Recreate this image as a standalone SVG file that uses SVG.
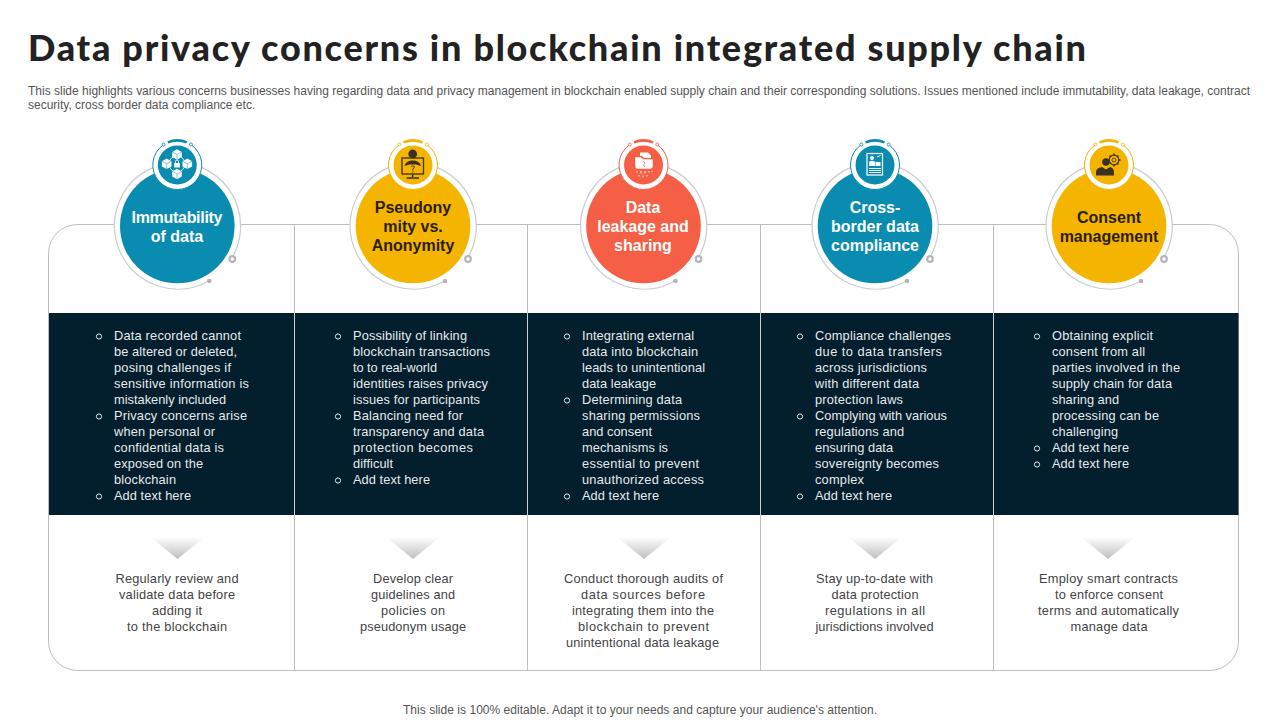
<svg xmlns="http://www.w3.org/2000/svg" width="1280" height="720" viewBox="0 0 1280 720">
<defs>
<linearGradient id="chev" x1="0" y1="0" x2="0" y2="1"><stop offset="0" stop-color="#ffffff"/><stop offset="1" stop-color="#bfbfbf"/></linearGradient>
<path id="ch" d="M-27 537H27L0 559Z" fill="url(#chev)"/>
<g id="badge">
<circle cx="0" cy="226" r="63.300" fill="#fff"/>
<path class="ring" d="M54.600 258A63.300 63.300 0 0 0 24.500 167.600"/>
<path class="ring" d="M31.400 281A63.300 63.300 0 1 1 -24.500 167.600"/>
<circle class="dr" cx="55" cy="259" r="2.800"/>
<circle class="dot" cx="32" cy="281" r="2.300"/>
<circle cx="0" cy="226" r="57.300" fill="currentColor"/>
<circle cx="0" cy="165" r="24.500" fill="#fff"/>
<path d="M13.700 144.700A24.500 24.500 0 1 1 -13.700 144.700" fill="none" stroke="currentColor" stroke-width="1"/>
<path d="M-9.500 142.400A24.500 24.500 0 0 1 9.500 142.400" fill="none" stroke="currentColor" stroke-width="2.600"/>
<circle cx="-13.700" cy="144.500" r="1.500" fill="#fff" stroke="currentColor" stroke-width="0.800"/>
<circle cx="13.700" cy="144.500" r="1.500" fill="#fff" stroke="currentColor" stroke-width="0.800"/>
<circle cx="0" cy="165" r="19.500" fill="currentColor"/>
</g>
<g id="cube"><path d="M0 -5.200L4.800 -2.600V2.600L0 5.200L-4.800 2.600V-2.600Z" fill="#fff"/><path d="M-4.800 -2.600L0 0L4.800 -2.600M0 0V5.200" fill="none" stroke="#0a8cb0" stroke-width="0.500"/></g>
</defs>
<style>
text{font-family:"Liberation Sans",Arial,sans-serif}
.title{font-family:Lato,"Liberation Sans",sans-serif;font-weight:900;font-size:36px;fill:#222}
.sub{font-size:12px;fill:#555}
.b{font-size:12.800px;fill:#e6eaec}
.c{font-size:12.800px;fill:#444;text-anchor:middle}
.h{font-size:16px;font-weight:700;text-anchor:middle}
.w{fill:#fff}.d{fill:#2b1e08}
.ln{fill:none;stroke:#bdbdbd;stroke-width:1}
.bu{fill:none;stroke:#e6eaec;stroke-width:1}
.ring{fill:none;stroke:#c9ccd0;stroke-width:1.200}
.dot{fill:#b4b6ba}
.dr{fill:#fff;stroke:#b4b6ba;stroke-width:2.200}
.teal{color:#0a8cb0}.gold{color:#f4b400}.red{color:#f45f45}
</style>
<rect width="1280" height="720" fill="#fff"/>
<text class="title" x="28" y="61" textLength="1058">Data privacy concerns in blockchain integrated supply chain</text>
<text class="sub" x="28" y="94.500" textLength="1222">This slide highlights various concerns businesses having regarding data and privacy management in blockchain enabled supply chain and their corresponding solutions. Issues mentioned include immutability, data leakage, contract</text>
<text class="sub" x="28" y="109">security, cross border data compliance etc.</text>
<g id="connectors">
<rect class="ln" x="48.500" y="224.500" width="1190" height="446" rx="29"/>
<path class="ln" d="M294.500 224V670M527.500 224V670M760.500 224V670M993.500 224V670"/>
</g>
<rect x="49" y="313" width="1189.500" height="202" fill="#031f2d"/>
<path d="M294.500 313V515M527.500 313V515M760.500 313V515M993.500 313V515" stroke="#c8d0d4" stroke-width="1" fill="none"/>

<g id="node-immutability">
<use href="#badge" x="177.300" class="teal"/>
<g fill="none" stroke="#fff" stroke-width="0.800"><circle cx="177" cy="164" r="8"/></g>
<use href="#cube" x="177" y="154.500"/><use href="#cube" x="166.700" y="163.800"/><use href="#cube" x="187.300" y="163.800"/><use href="#cube" x="177" y="174"/>
<rect x="174.200" y="163" width="5.600" height="4.500" fill="#fff"/><path d="M175.500 163V161.500A1.500 1.500 0 0 1 178.500 161.500V163" fill="none" stroke="#fff" stroke-width="0.900"/>
<text class="h w" x="177" y="223" textLength="91">Immutability</text>
<text class="h w" x="177" y="242">of data</text>
<circle class="bu" cx="99" cy="336.500" r="2.600"/><circle class="bu" cx="99" cy="416.500" r="2.600"/><circle class="bu" cx="99" cy="496.500" r="2.600"/>
<text class="b" x="114" y="340" textLength="127">Data recorded cannot</text>
<text class="b" x="114" y="356" textLength="123">be altered or deleted,</text>
<text class="b" x="114" y="372" textLength="117">posing challenges if</text>
<text class="b" x="114" y="388" textLength="135">sensitive information is</text>
<text class="b" x="114" y="404" textLength="112">mistakenly included</text>
<text class="b" x="114" y="420" textLength="133">Privacy concerns arise</text>
<text class="b" x="114" y="436" textLength="101">when personal or</text>
<text class="b" x="114" y="452" textLength="110">confidential data is</text>
<text class="b" x="114" y="468" textLength="89">exposed on the</text>
<text class="b" x="114" y="484" textLength="62">blockchain</text>
<text class="b" x="114" y="500" textLength="77">Add text here</text>
<use href="#ch" x="177.500"/>
<text class="c" x="177" y="583" textLength="123">Regularly review and</text>
<text class="c" x="177" y="599" textLength="116">validate data before</text>
<text class="c" x="177" y="615" textLength="50">adding it</text>
<text class="c" x="177" y="631" textLength="100">to the blockchain</text>
</g>

<g id="node-pseudonymity">
<use href="#badge" x="413" class="gold"/>
<circle cx="412.700" cy="154" r="4.400" fill="#3a3122"/>
<rect x="402" y="158" width="21.500" height="16" fill="none" stroke="#3a3122" stroke-width="1.300"/>
<path d="M404.500 166Q406 160.500 412.700 160.500Q419.500 160.500 421 166L416 164.500H409.500Z" fill="#3a3122"/>
<path d="M411 166.500Q412.700 165 414.300 166.500Q414.800 168 412.800 169V170.500M412.800 171.500V172.800" fill="none" stroke="#3a3122" stroke-width="0.900"/>
<path d="M412.700 174V177M406.500 178H419" fill="none" stroke="#3a3122" stroke-width="1.500"/>
<text class="h d" x="413" y="213">Pseudony</text>
<text class="h d" x="413" y="232">mity vs.</text>
<text class="h d" x="413" y="251">Anonymity</text>
<circle class="bu" cx="338" cy="336.500" r="2.600"/><circle class="bu" cx="338" cy="416.500" r="2.600"/><circle class="bu" cx="338" cy="480.500" r="2.600"/>
<text class="b" x="353" y="340" textLength="114">Possibility of linking</text>
<text class="b" x="353" y="356" textLength="137">blockchain transactions</text>
<text class="b" x="353" y="372" textLength="84">to to real-world</text>
<text class="b" x="353" y="388" textLength="135">identities raises privacy</text>
<text class="b" x="353" y="404" textLength="127">issues for participants</text>
<text class="b" x="353" y="420" textLength="110">Balancing need for</text>
<text class="b" x="353" y="436" textLength="131">transparency and data</text>
<text class="b" x="353" y="452" textLength="120">protection becomes</text>
<text class="b" x="353" y="468" textLength="40">difficult</text>
<text class="b" x="353" y="484" textLength="77">Add text here</text>
<use href="#ch" x="413"/>
<text class="c" x="413" y="583" textLength="80">Develop clear</text>
<text class="c" x="413" y="599" textLength="84">guidelines and</text>
<text class="c" x="413" y="615" textLength="64">policies on</text>
<text class="c" x="413" y="631" textLength="106">pseudonym usage</text>
</g>

<g id="node-leakage">
<use href="#badge" x="643.500" class="red"/>
<path d="M640 156V152.500H648L651 155.500V158H644L642 156Z" fill="#fff"/>
<path d="M635 157H641L643 159H653V166Q653 169 650 169H638Q635 169 635 166Z" fill="#fff" stroke="#f45f45" stroke-width="0.500"/>
<path d="M643.500 161L645 163.500L643.500 165L645 167" fill="none" stroke="#f45f45" stroke-width="0.800"/>
<path d="M637 171V172.500M641 171V173.500M645 171V173.500M649 171V172.500M652 171V172M639 175V176.500M643 175.500V177.500M647 175V176.500" stroke="#fff" stroke-width="1" fill="none"/>
<text class="h w" x="643" y="213">Data</text>
<text class="h w" x="643" y="232">leakage and</text>
<text class="h w" x="643" y="251">sharing</text>
<circle class="bu" cx="567" cy="336.500" r="2.600"/><circle class="bu" cx="567" cy="400.500" r="2.600"/><circle class="bu" cx="567" cy="496.500" r="2.600"/>
<text class="b" x="582" y="340" textLength="112">Integrating external</text>
<text class="b" x="582" y="356" textLength="116">data into blockchain</text>
<text class="b" x="582" y="372" textLength="123">leads to unintentional</text>
<text class="b" x="582" y="388" textLength="74">data leakage</text>
<text class="b" x="582" y="404" textLength="100">Determining data</text>
<text class="b" x="582" y="420" textLength="118">sharing permissions</text>
<text class="b" x="582" y="436" textLength="70">and consent</text>
<text class="b" x="582" y="452" textLength="86">mechanisms is</text>
<text class="b" x="582" y="468" textLength="117">essential to prevent</text>
<text class="b" x="582" y="484" textLength="122">unauthorized access</text>
<text class="b" x="582" y="500" textLength="77">Add text here</text>
<use href="#ch" x="644"/>
<text class="c" x="643.500" y="583" textLength="159">Conduct thorough audits of</text>
<text class="c" x="643" y="599" textLength="124">data sources before</text>
<text class="c" x="643" y="615" textLength="142">integrating them into the</text>
<text class="c" x="643.500" y="631" textLength="131">blockchain to prevent</text>
<text class="c" x="642.500" y="647" textLength="153">unintentional data leakage</text>
</g>

<g id="node-compliance">
<use href="#badge" x="875" class="teal"/>
<rect x="867" y="153.500" width="15.500" height="21.500" fill="none" stroke="#fff" stroke-width="1.200"/>
<circle cx="872" cy="158" r="2" fill="#fff"/><path d="M869 166V162.500Q869 160.800 872 160.800Q875 160.800 875 162.500V166Z" fill="#fff"/>
<rect x="875.500" y="162" width="5" height="4" fill="#fff"/>
<path d="M869 168.500H881M869 170.500H881M869 172.500H881M877 157L880.500 155.500" stroke="#fff" stroke-width="0.900" fill="none"/>
<text class="h w" x="875" y="213">Cross-</text>
<text class="h w" x="875" y="232">border data</text>
<text class="h w" x="875" y="251">compliance</text>
<circle class="bu" cx="800" cy="336.500" r="2.600"/><circle class="bu" cx="800" cy="416.500" r="2.600"/><circle class="bu" cx="800" cy="496.500" r="2.600"/>
<text class="b" x="815" y="340" textLength="136">Compliance challenges</text>
<text class="b" x="815" y="356" textLength="127">due to data transfers</text>
<text class="b" x="815" y="372" textLength="112">across jurisdictions</text>
<text class="b" x="815" y="388" textLength="104">with different data</text>
<text class="b" x="815" y="404" textLength="88">protection laws</text>
<text class="b" x="815" y="420" textLength="132">Complying with various</text>
<text class="b" x="815" y="436" textLength="89">regulations and</text>
<text class="b" x="815" y="452" textLength="78">ensuring data</text>
<text class="b" x="815" y="468" textLength="124">sovereignty becomes</text>
<text class="b" x="815" y="484" textLength="49">complex</text>
<text class="b" x="815" y="500" textLength="77">Add text here</text>
<use href="#ch" x="875"/>
<text class="c" x="874.500" y="583" textLength="117">Stay up-to-date with</text>
<text class="c" x="875" y="599" textLength="87">data protection</text>
<text class="c" x="875" y="615" textLength="100">regulations in all</text>
<text class="c" x="874.500" y="631" textLength="118">jurisdictions involved</text>
</g>

<g id="node-consent">
<use href="#badge" x="1109" class="gold"/>
<circle cx="1106" cy="162" r="3.800" fill="#3a3122"/>
<path d="M1096 175.500V172Q1096 168 1102 167L1106 169.500L1110 167Q1114 168 1114 172V175.500Z" fill="#3a3122"/>
<circle cx="1114" cy="160" r="4.800" fill="none" stroke="#3a3122" stroke-width="1.200"/><circle cx="1114" cy="160" r="2" fill="none" stroke="#3a3122" stroke-width="0.800"/>
<path d="M1114 153.500V155M1114 165V166.500M1107.500 160H1109M1119 160H1120.500M1109.500 155.500L1110.500 156.500M1117.500 163.500L1118.500 164.500M1118.500 155.500L1117.500 156.500" stroke="#3a3122" stroke-width="1.500" fill="none"/>
<text class="h d" x="1109" y="223">Consent</text>
<text class="h d" x="1109" y="242">management</text>
<circle class="bu" cx="1037" cy="336.500" r="2.600"/><circle class="bu" cx="1037" cy="448.500" r="2.600"/><circle class="bu" cx="1037" cy="464.500" r="2.600"/>
<text class="b" x="1052" y="340" textLength="101">Obtaining explicit</text>
<text class="b" x="1052" y="356" textLength="93">consent from all</text>
<text class="b" x="1052" y="372" textLength="128">parties involved  in the</text>
<text class="b" x="1052" y="388" textLength="120">supply chain for data</text>
<text class="b" x="1052" y="404" textLength="67">sharing and</text>
<text class="b" x="1052" y="420" textLength="107">processing can be</text>
<text class="b" x="1052" y="436" textLength="66">challenging</text>
<text class="b" x="1052" y="452" textLength="77">Add text here</text>
<text class="b" x="1052" y="468" textLength="77">Add text here</text>
<use href="#ch" x="1108"/>
<text class="c" x="1108.500" y="583" textLength="139">Employ smart contracts</text>
<text class="c" x="1109" y="599" textLength="108">to enforce consent</text>
<text class="c" x="1108.500" y="615" textLength="141">terms and automatically</text>
<text class="c" x="1109" y="631" textLength="77">manage data</text>
</g>
<text class="sub" x="640" y="714" text-anchor="middle" textLength="474">This slide is 100% editable. Adapt it to your needs and capture your audience's attention.</text>
</svg>
